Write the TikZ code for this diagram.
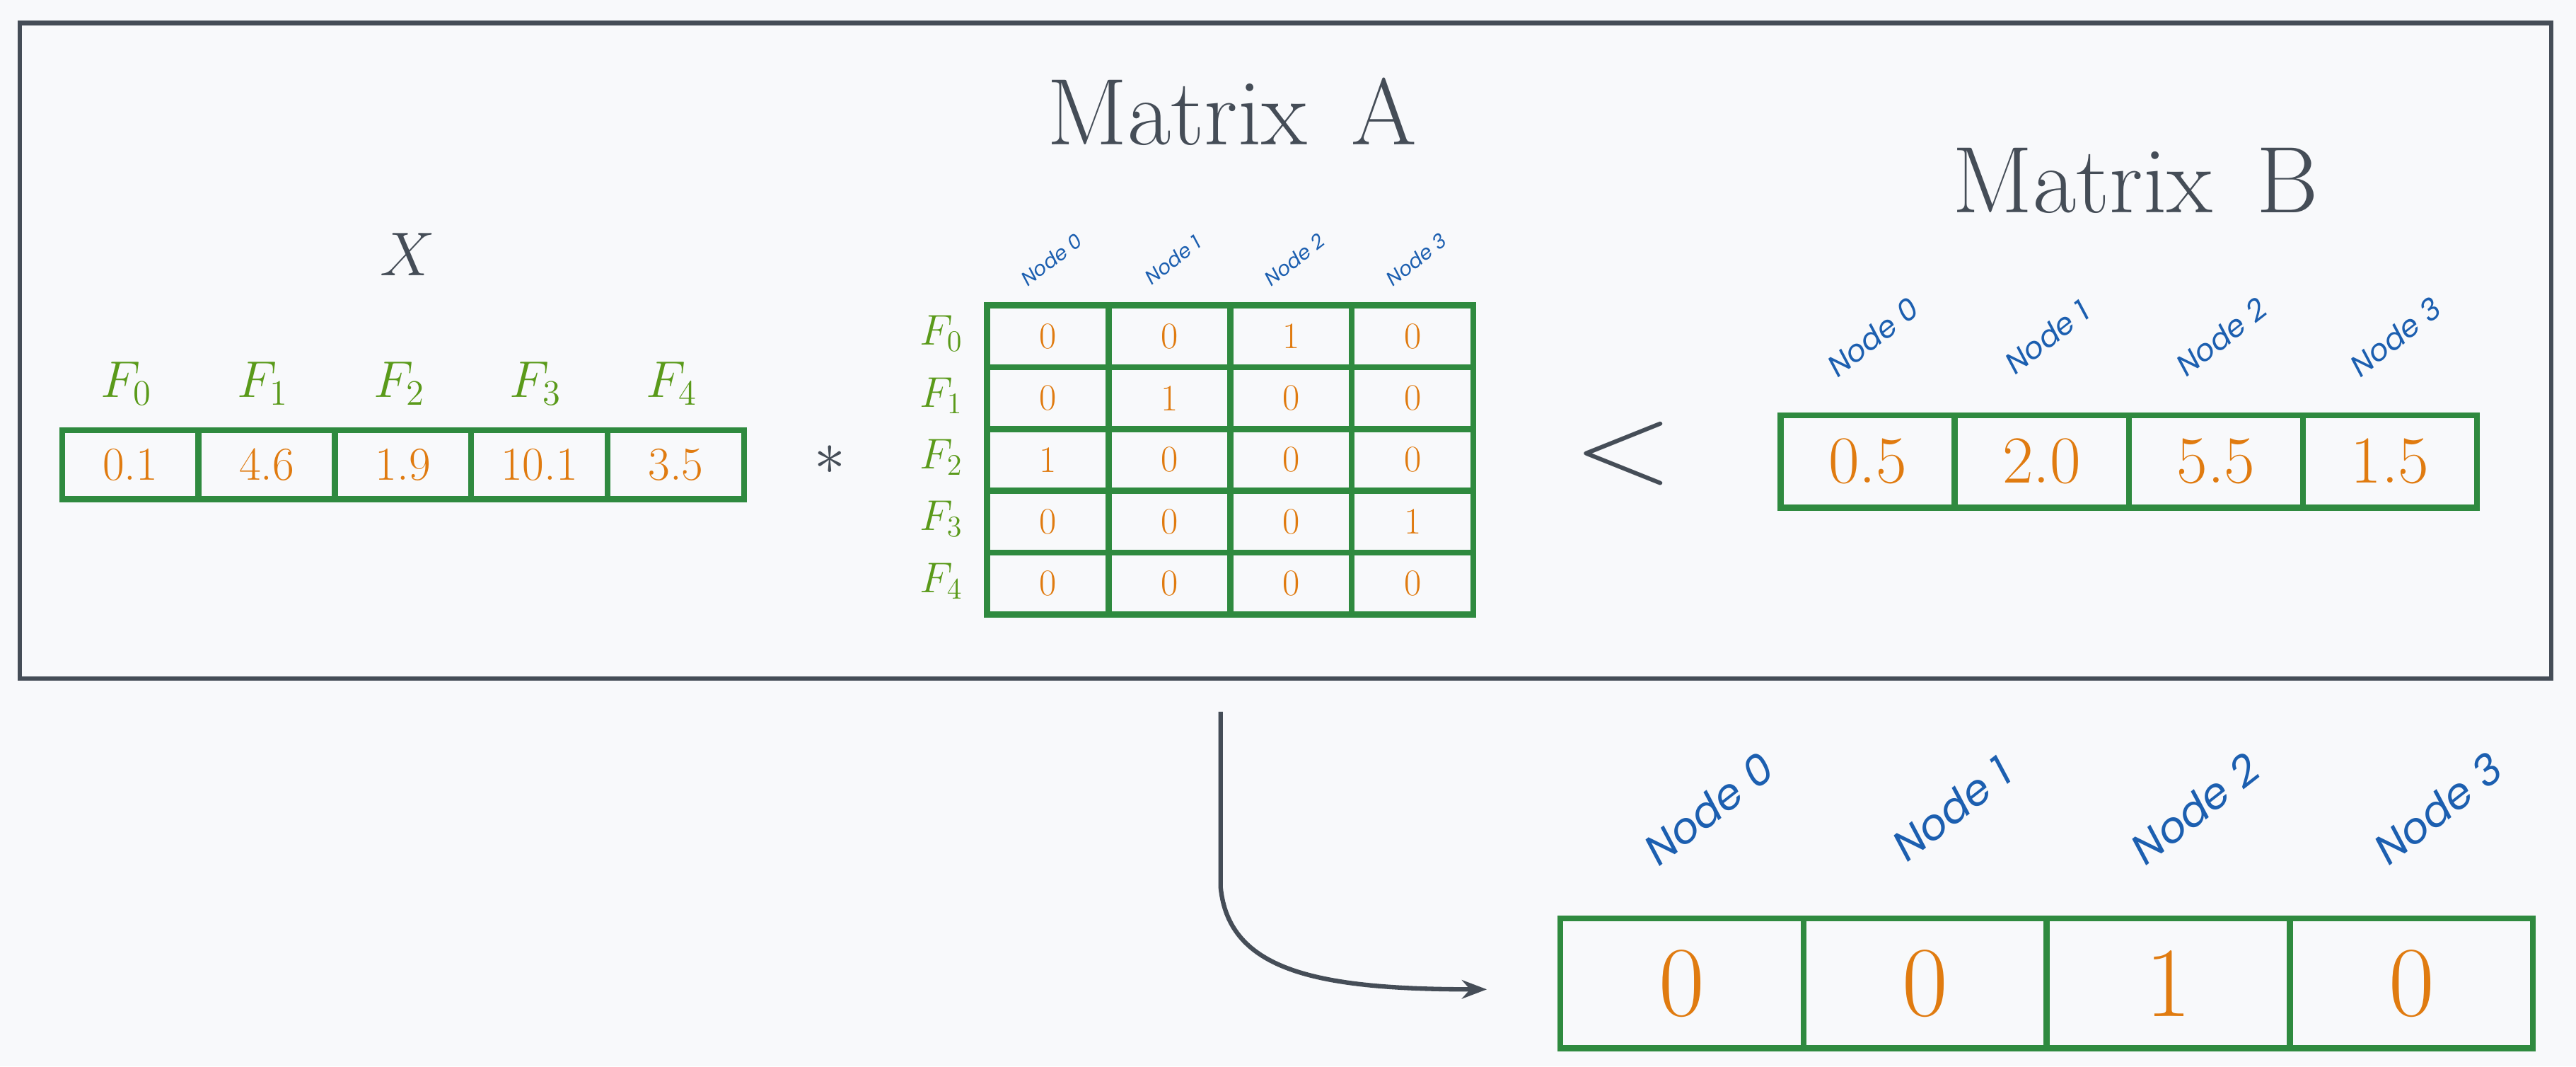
\documentclass[tikz,border=0pt]{standalone}
\usepackage{fontspec}
\newfontfamily\hand{Poppins}
\usetikzlibrary{arrows.meta}
\definecolor{bg}{HTML}{F8F9FB}
\definecolor{frame}{HTML}{454D57}
\definecolor{cellg}{HTML}{2F8A3F}
\definecolor{num}{HTML}{E07B10}
\definecolor{lbl}{HTML}{1C5FB0}
\definecolor{feat}{HTML}{5A9A1A}
\tikzset{
  cell/.style={draw=cellg,line width=2.4pt,text=num,inner sep=0pt,anchor=north west},
  nodelbl/.style={text=lbl,rotate=38,inner sep=0pt,font=\hand\itshape},
  flbl/.style={text=feat},
  title/.style={text=frame,font=\fontsize{38}{40}\selectfont},
}
\begin{document}
\begin{tikzpicture}[x=0.023227cm,y=-0.023227cm]
\fill[bg] (0,0) rectangle (1568,649);
\useasboundingbox (0,0) rectangle (1568,649);
\draw[frame,line width=1.8pt] (12,14) rectangle (1553,413);
\node[title] (ta) at (750,68) {Matrix\, A};
\node[title] (tb) at (1300,110) {Matrix\, B};
\node[text=frame,font=\fontsize{32}{34}\selectfont] (tx) at (248,155) {$X$};
% X vector
\foreach \v [count=\i from 0] in {0.1,4.6,1.9,10.1,3.5} {
  \node[cell,minimum width=83*0.023227cm,minimum height=42*0.023227cm,
        font=\fontsize{19}{20}\selectfont] (x\i) at (36+83*\i,260) {\v};
  \node[flbl,font=\fontsize{22}{24}\selectfont,anchor=south] (xf\i) at (36+83*\i+41,252) {$F_{\i}$};
}
\node[text=frame,font=\fontsize{30}{30}\selectfont] (star) at (505,280) {$*$};
% Matrix A
\foreach \r [count=\j from 0] in {{0,0,1,0},{0,1,0,0},{1,0,0,0},{0,0,0,1},{0,0,0,0}} {
  \foreach \v [count=\i from 0] in \r {
    \node[cell,minimum width=74*0.023227cm,minimum height=37.6*0.023227cm,
          font=\fontsize{15}{16}\selectfont] (a\j\i) at (599+74*\i,184+37.6*\j) {\v};
  }
  \node[flbl,font=\fontsize{17}{18}\selectfont] (af\j) at (573,203+37.6*\j) {$F_{\j}$};
}
\foreach \i in {0,...,3}
  \node[nodelbl,font=\hand\itshape\fontsize{8}{9}\selectfont] (an\i) at (640+74*\i,158) {Node \i};
\node[text=frame,font=\fontsize{46}{46}\selectfont,xscale=1.15] (lt) at (988,276) {<};
% Matrix B
\foreach \v [count=\i from 0] in {0.5,2.0,5.5,1.5} {
  \node[cell,minimum width=106*0.023227cm,minimum height=56*0.023227cm,
        font=\fontsize{27}{28}\selectfont] (b\i) at (1082+106*\i,251) {\v};
  \node[nodelbl,font=\hand\itshape\fontsize{12}{13}\selectfont] (bn\i) at (1140+106*\i,205) {Node \i};
}
% Result
\foreach \v [count=\i from 0] in {0,0,1,0} {
  \node[cell,minimum width=148*0.023227cm,minimum height=79*0.023227cm,
        font=\fontsize{40}{42}\selectfont] (r\i) at (948+148*\i,557) {\v};
  \node[nodelbl,font=\hand\itshape\fontsize{17}{18}\selectfont] (rn\i) at (1040+148*\i,492) {Node \i};
}
\coordinate (s) at (743,433);
\coordinate (e) at (905,602);
\draw[frame,line width=1.8pt,-{Stealth[length=10pt]}] (s) -- (743,540) .. controls (748,590) and (800,602) .. (e);
\end{tikzpicture}
\end{document}
